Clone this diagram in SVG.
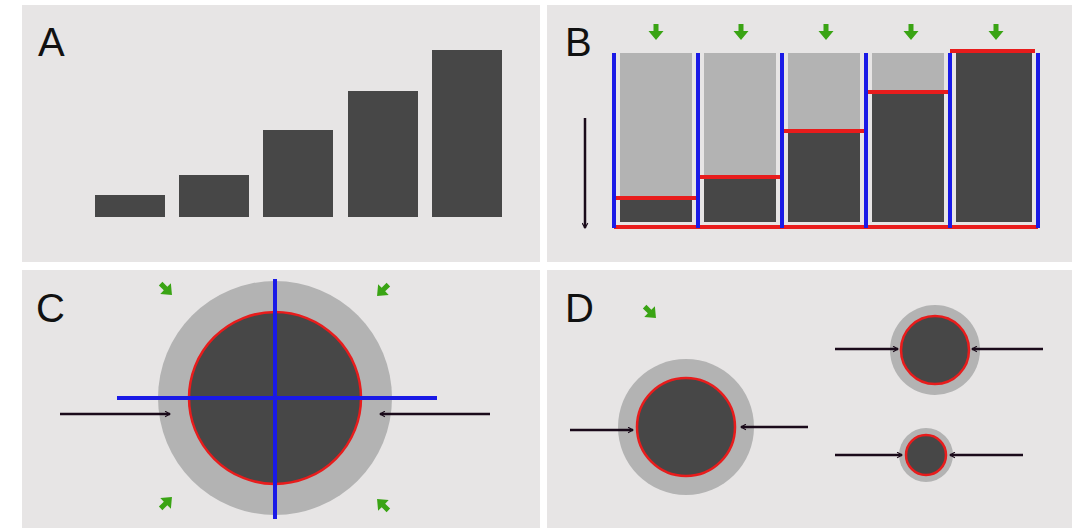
<svg xmlns="http://www.w3.org/2000/svg" xmlns:xlink="http://www.w3.org/1999/xlink" width="1079" height="532" viewBox="0 0 1079 532">
<style>
.panel{fill:#e7e5e5}
.dark{fill:#474747}
.light{fill:#b3b3b3}
.lbl{font-family:"Liberation Sans",Arial,sans-serif;font-size:40px;fill:#111}
.blue{stroke:#1a1ae6;stroke-width:4}
.red{stroke:#e81c1c;stroke-width:4}
.ink{stroke:#1a0a1a;stroke-width:2.5;fill:none}
.rim{fill:#474747;stroke:#e81c1c;stroke-width:2.5}
</style>
<defs>
<path id="g" d="M-2.5,-9 h5 v7 h5 l-7.5,9 l-7.5,-9 h5z" fill="#3aa414"/>
<marker id="ah" viewBox="0 0 10 10" refX="8" refY="5" markerWidth="7" markerHeight="7" orient="auto" markerUnits="userSpaceOnUse"><path d="M1,1 L8,5 L1,9" fill="none" stroke="#1a0a1a" stroke-width="1.6"/></marker>
</defs>
<rect width="1079" height="532" fill="#fff"/>
<g id="panelA">
<rect class="panel" x="22" y="5" width="518" height="257"/>
<text class="lbl" x="38" y="56">A</text>
<rect class="dark" x="95" y="195" width="70" height="22"/>
<rect class="dark" x="179" y="175" width="70" height="42"/>
<rect class="dark" x="263" y="130" width="70" height="87"/>
<rect class="dark" x="348" y="91" width="70" height="126"/>
<rect class="dark" x="432" y="50" width="70" height="167"/>
</g>
<g id="panelB">
<rect class="panel" x="547" y="5" width="525" height="257"/>
<text class="lbl" x="565" y="56">B</text>
<rect class="light" x="620" y="53" width="72" height="169"/>
<rect class="light" x="704" y="53" width="72" height="169"/>
<rect class="light" x="788" y="53" width="72" height="169"/>
<rect class="light" x="872" y="53" width="72" height="169"/>
<rect class="dark" x="620" y="198" width="72" height="24"/>
<rect class="dark" x="704" y="177" width="72" height="45"/>
<rect class="dark" x="788" y="131" width="72" height="91"/>
<rect class="dark" x="872" y="92" width="72" height="130"/>
<rect class="dark" x="956" y="50" width="76" height="172"/>
<g class="red">
<line x1="614" y1="198" x2="698" y2="198"/>
<line x1="698" y1="177" x2="782" y2="177"/>
<line x1="782" y1="131" x2="866" y2="131"/>
<line x1="866" y1="92" x2="950" y2="92"/>
<line x1="950" y1="51" x2="1035" y2="51"/>
<line x1="614" y1="227" x2="1038" y2="227"/>
</g>
<g class="blue">
<line x1="614" y1="53" x2="614" y2="228"/>
<line x1="698" y1="53" x2="698" y2="228"/>
<line x1="782" y1="53" x2="782" y2="228"/>
<line x1="866" y1="53" x2="866" y2="228"/>
<line x1="950" y1="53" x2="950" y2="228"/>
<line x1="1038" y1="53" x2="1038" y2="228"/>
</g>
<use href="#g" x="656" y="33"/><use href="#g" x="741" y="33"/><use href="#g" x="826" y="33"/><use href="#g" x="911" y="33"/><use href="#g" x="996" y="33"/>
<line class="ink" x1="585" y1="118" x2="585" y2="228" marker-end="url(#ah)"/>
</g>
<g id="panelC">
<rect class="panel" x="22" y="270" width="518" height="258"/>
<text class="lbl" x="36" y="322">C</text>
<circle class="light" cx="275" cy="398" r="117"/>
<circle class="rim" cx="275" cy="398" r="86"/>
<g class="blue"><line x1="275" y1="279" x2="275" y2="519"/><line x1="117" y1="398" x2="437" y2="398"/></g>
<use href="#g" transform="translate(167,290) rotate(-45)"/>
<use href="#g" transform="translate(382,291) rotate(45)"/>
<use href="#g" transform="translate(167,502) rotate(-135)"/>
<use href="#g" transform="translate(382,504) rotate(135)"/>
</g>
<g id="panelD">
<rect class="panel" x="547" y="270" width="525" height="258"/>
<text class="lbl" x="565" y="322">D</text>
<use href="#g" transform="translate(651,313) rotate(-45)"/>
<circle class="light" cx="686" cy="427" r="68"/>
<circle class="rim" cx="686" cy="427" r="49"/>
<circle class="light" cx="935" cy="350" r="45"/>
<circle class="rim" cx="935" cy="350" r="34"/>
<circle class="light" cx="926" cy="455" r="27"/>
<circle class="rim" cx="926" cy="455" r="20"/>
</g>
<g id="connectors">
<line class="ink" x1="60" y1="414" x2="170" y2="414" marker-end="url(#ah)"/>
<line class="ink" x1="490" y1="414" x2="380" y2="414" marker-end="url(#ah)"/>
<line class="ink" x1="570" y1="430" x2="633" y2="430" marker-end="url(#ah)"/>
<line class="ink" x1="808" y1="427" x2="741" y2="427" marker-end="url(#ah)"/>
<line class="ink" x1="835" y1="349" x2="898" y2="349" marker-end="url(#ah)"/>
<line class="ink" x1="1043" y1="349" x2="972" y2="349" marker-end="url(#ah)"/>
<line class="ink" x1="835" y1="455" x2="902" y2="455" marker-end="url(#ah)"/>
<line class="ink" x1="1023" y1="455" x2="950" y2="455" marker-end="url(#ah)"/>
</g>
</svg>
